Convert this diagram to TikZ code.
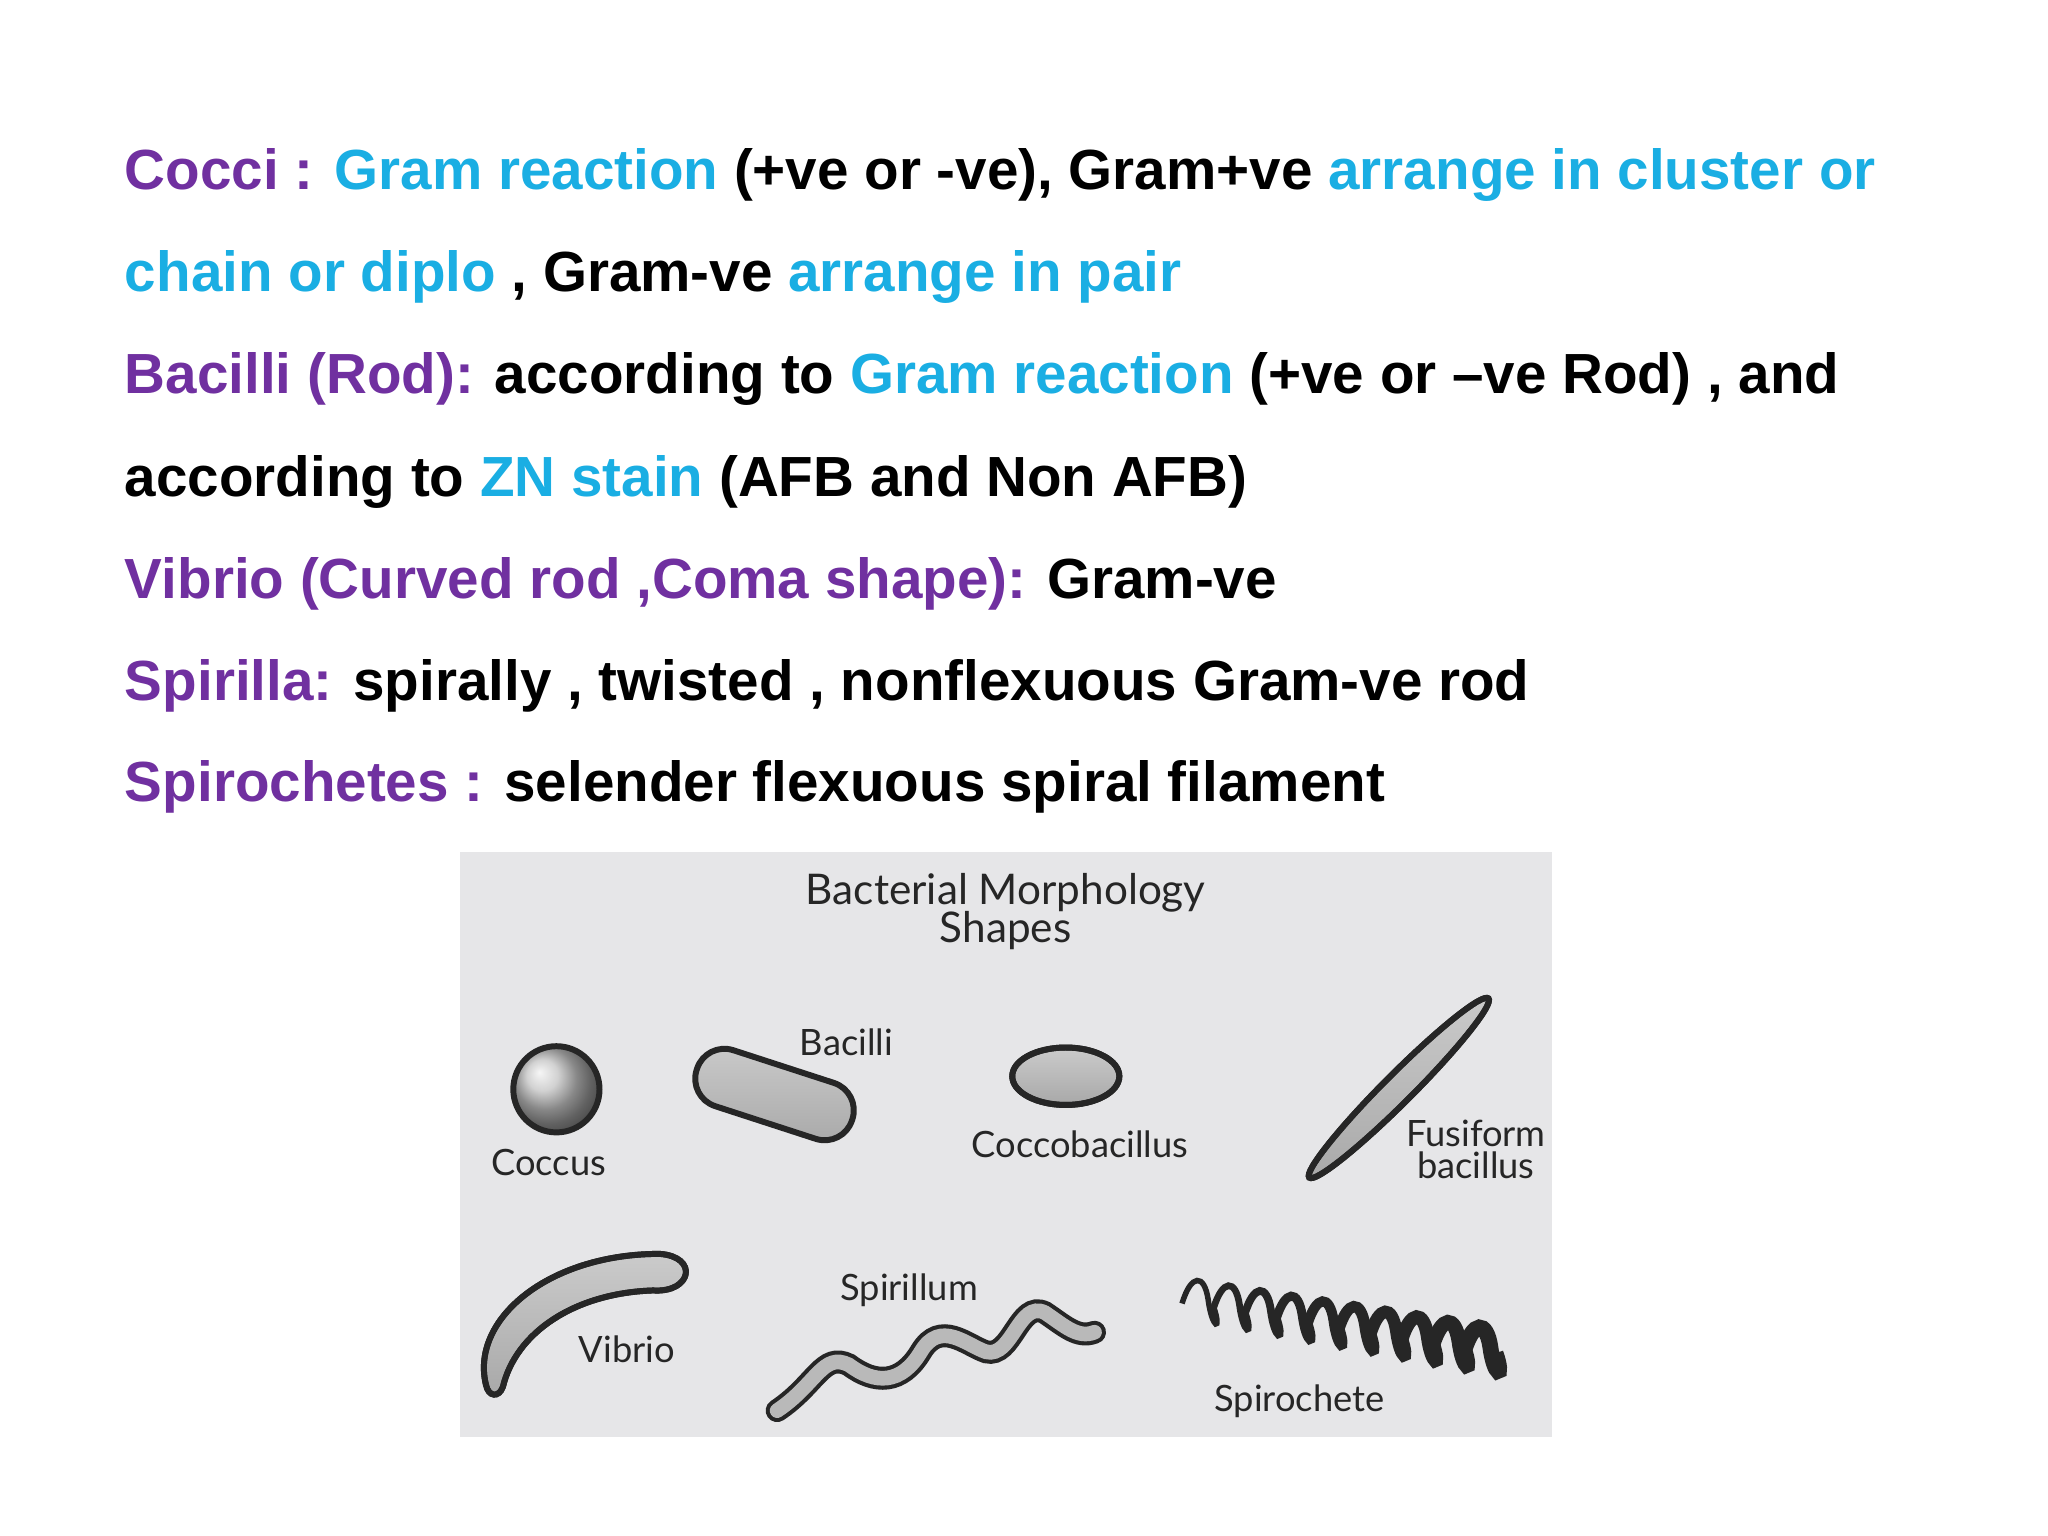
\documentclass[tikz,border=0pt]{standalone}
\usepackage{fontspec}
\setmainfont{Liberation Sans}
\newfontfamily\labfont{Lato}
\definecolor{pur}{HTML}{7030A0}
\definecolor{cy}{HTML}{1AAEE3}
\definecolor{bg}{HTML}{E6E6E8}
\definecolor{cell}{HTML}{A8A8A8}
\tikzset{
 ln/.style={anchor=base west,inner sep=0pt,font=\fontsize{12.32}{14}\selectfont\bfseries},
 lab/.style={font=\labfont\fontsize{7.9}{7.9}\selectfont,text=black!85,align=center,inner sep=0pt},
 bug/.style={draw=black!85,line width=1.3pt,left color=cell!60,right color=cell,shading angle=0},
}
\begin{document}
\begin{tikzpicture}[x=0.01cm,y=-0.01cm]
\useasboundingbox (0,0) rectangle (1568,1176);
\fill[white] (0,0) rectangle (1568,1176);
\node[ln] (l1) at (95,145) {\textcolor{pur}{Cocci :} \textcolor{cy}{Gram reaction} (+ve or -ve), Gram+ve \textcolor{cy}{arrange in cluster or}};
\node[ln] (l2) at (95,223) {\textcolor{cy}{chain or diplo} , Gram-ve \textcolor{cy}{arrange in pair}};
\node[ln] (l3) at (95,301) {\textcolor{pur}{Bacilli (Rod):} according to \textcolor{cy}{Gram reaction} (+ve or –ve Rod) , and};
\node[ln] (l4) at (95,380) {according to \textcolor{cy}{ZN stain} (AFB and Non AFB)};
\node[ln] (l5) at (95,458) {\textcolor{pur}{Vibrio (Curved rod ,Coma shape):} Gram-ve};
\node[ln] (l6) at (95,536) {\textcolor{pur}{Spirilla:} spirally , twisted , nonflexuous Gram-ve rod};
\node[ln] (l7) at (95,614) {\textcolor{pur}{Spirochetes :} selender flexuous spiral filament};
% image panel
\fill[bg] (352,652) rectangle (1188,1100);
\node[lab,font=\labfont\fontsize{9.2}{9.2}\selectfont] (title) at (770,698) {Bacterial Morphology\\[-1pt]Shapes};
% coccus
\shade[ball color=cell!70] (426,834) circle (33);
\draw[black!85,line width=1.3pt] (426,834) circle (33);
\node[lab] (t1) at (420,890) {Coccus};
% bacillus
\node[bug,rotate=-18,minimum width=1.25cm,minimum height=0.45cm,rounded corners=0.22cm,inner sep=0pt] (b) at (593,838) {};
\node[lab] (t2) at (648,798) {Bacilli};
% coccobacillus
\shade[bug] (816,824) ellipse (41 and 22);
\draw[black!85,line width=1.3pt] (816,824) ellipse (41 and 22);
\node[lab] (t3) at (827,876) {Coccobacillus};
% fusiform
\shade[bug,rotate around={45:(1071,833)}] (1071,833) ellipse (97 and 11);
\draw[black!85,line width=1.3pt,rotate around={45:(1071,833)}] (1071,833) ellipse (97 and 11);
\node[lab] (t4) at (1130,880) {Fusiform\\[-1pt]bacillus};
% vibrio
\shade[bug] (372,1060) .. controls (360,1010) and (420,960) .. (505,960)
  .. controls (535,962) and (530,990) .. (500,988)
  .. controls (440,990) and (395,1020) .. (385,1062)
  .. controls (382,1070) and (374,1070) .. (372,1060) -- cycle;
\draw[black!85,line width=1.3pt] (372,1060) .. controls (360,1010) and (420,960) .. (505,960)
  .. controls (535,962) and (530,990) .. (500,988)
  .. controls (440,990) and (395,1020) .. (385,1062)
  .. controls (382,1070) and (374,1070) .. (372,1060) -- cycle;
\node[lab] (t5) at (480,1033) {Vibrio};
% spirillum
\foreach \w/\c in {5pt/black!85,3.2pt/cell!80}{
\draw[\c,line width=\w,line cap=round] (595,1080) .. controls (625,1060) and (630,1035) .. (650,1045)
  .. controls (670,1060) and (690,1060) .. (705,1035) .. controls (720,1010) and (740,1030) .. (755,1035)
  .. controls (775,1040) and (780,995) .. (800,1005) .. controls (815,1015) and (825,1025) .. (838,1020);}
\node[lab] (t6) at (696,988) {Spirillum};
% spirochete
\foreach \i in {0,...,9}{
  \draw[black!85,line width={1.2pt+0.25pt*\i}] ({905+24*\i},{998+4*\i}) .. controls ({912+24*\i},{975+4*\i}) and ({922+24*\i},{975+4*\i}) .. ({925+24*\i},{995+4*\i})
    .. controls ({928+24*\i},{1018+4*\i}) and ({936+24*\i},{1020+4*\i}) .. ({929+24*\i},{1000+4*\i});
}
\node[lab] (t7) at (995,1073) {Spirochete};
\end{tikzpicture}
\end{document}
